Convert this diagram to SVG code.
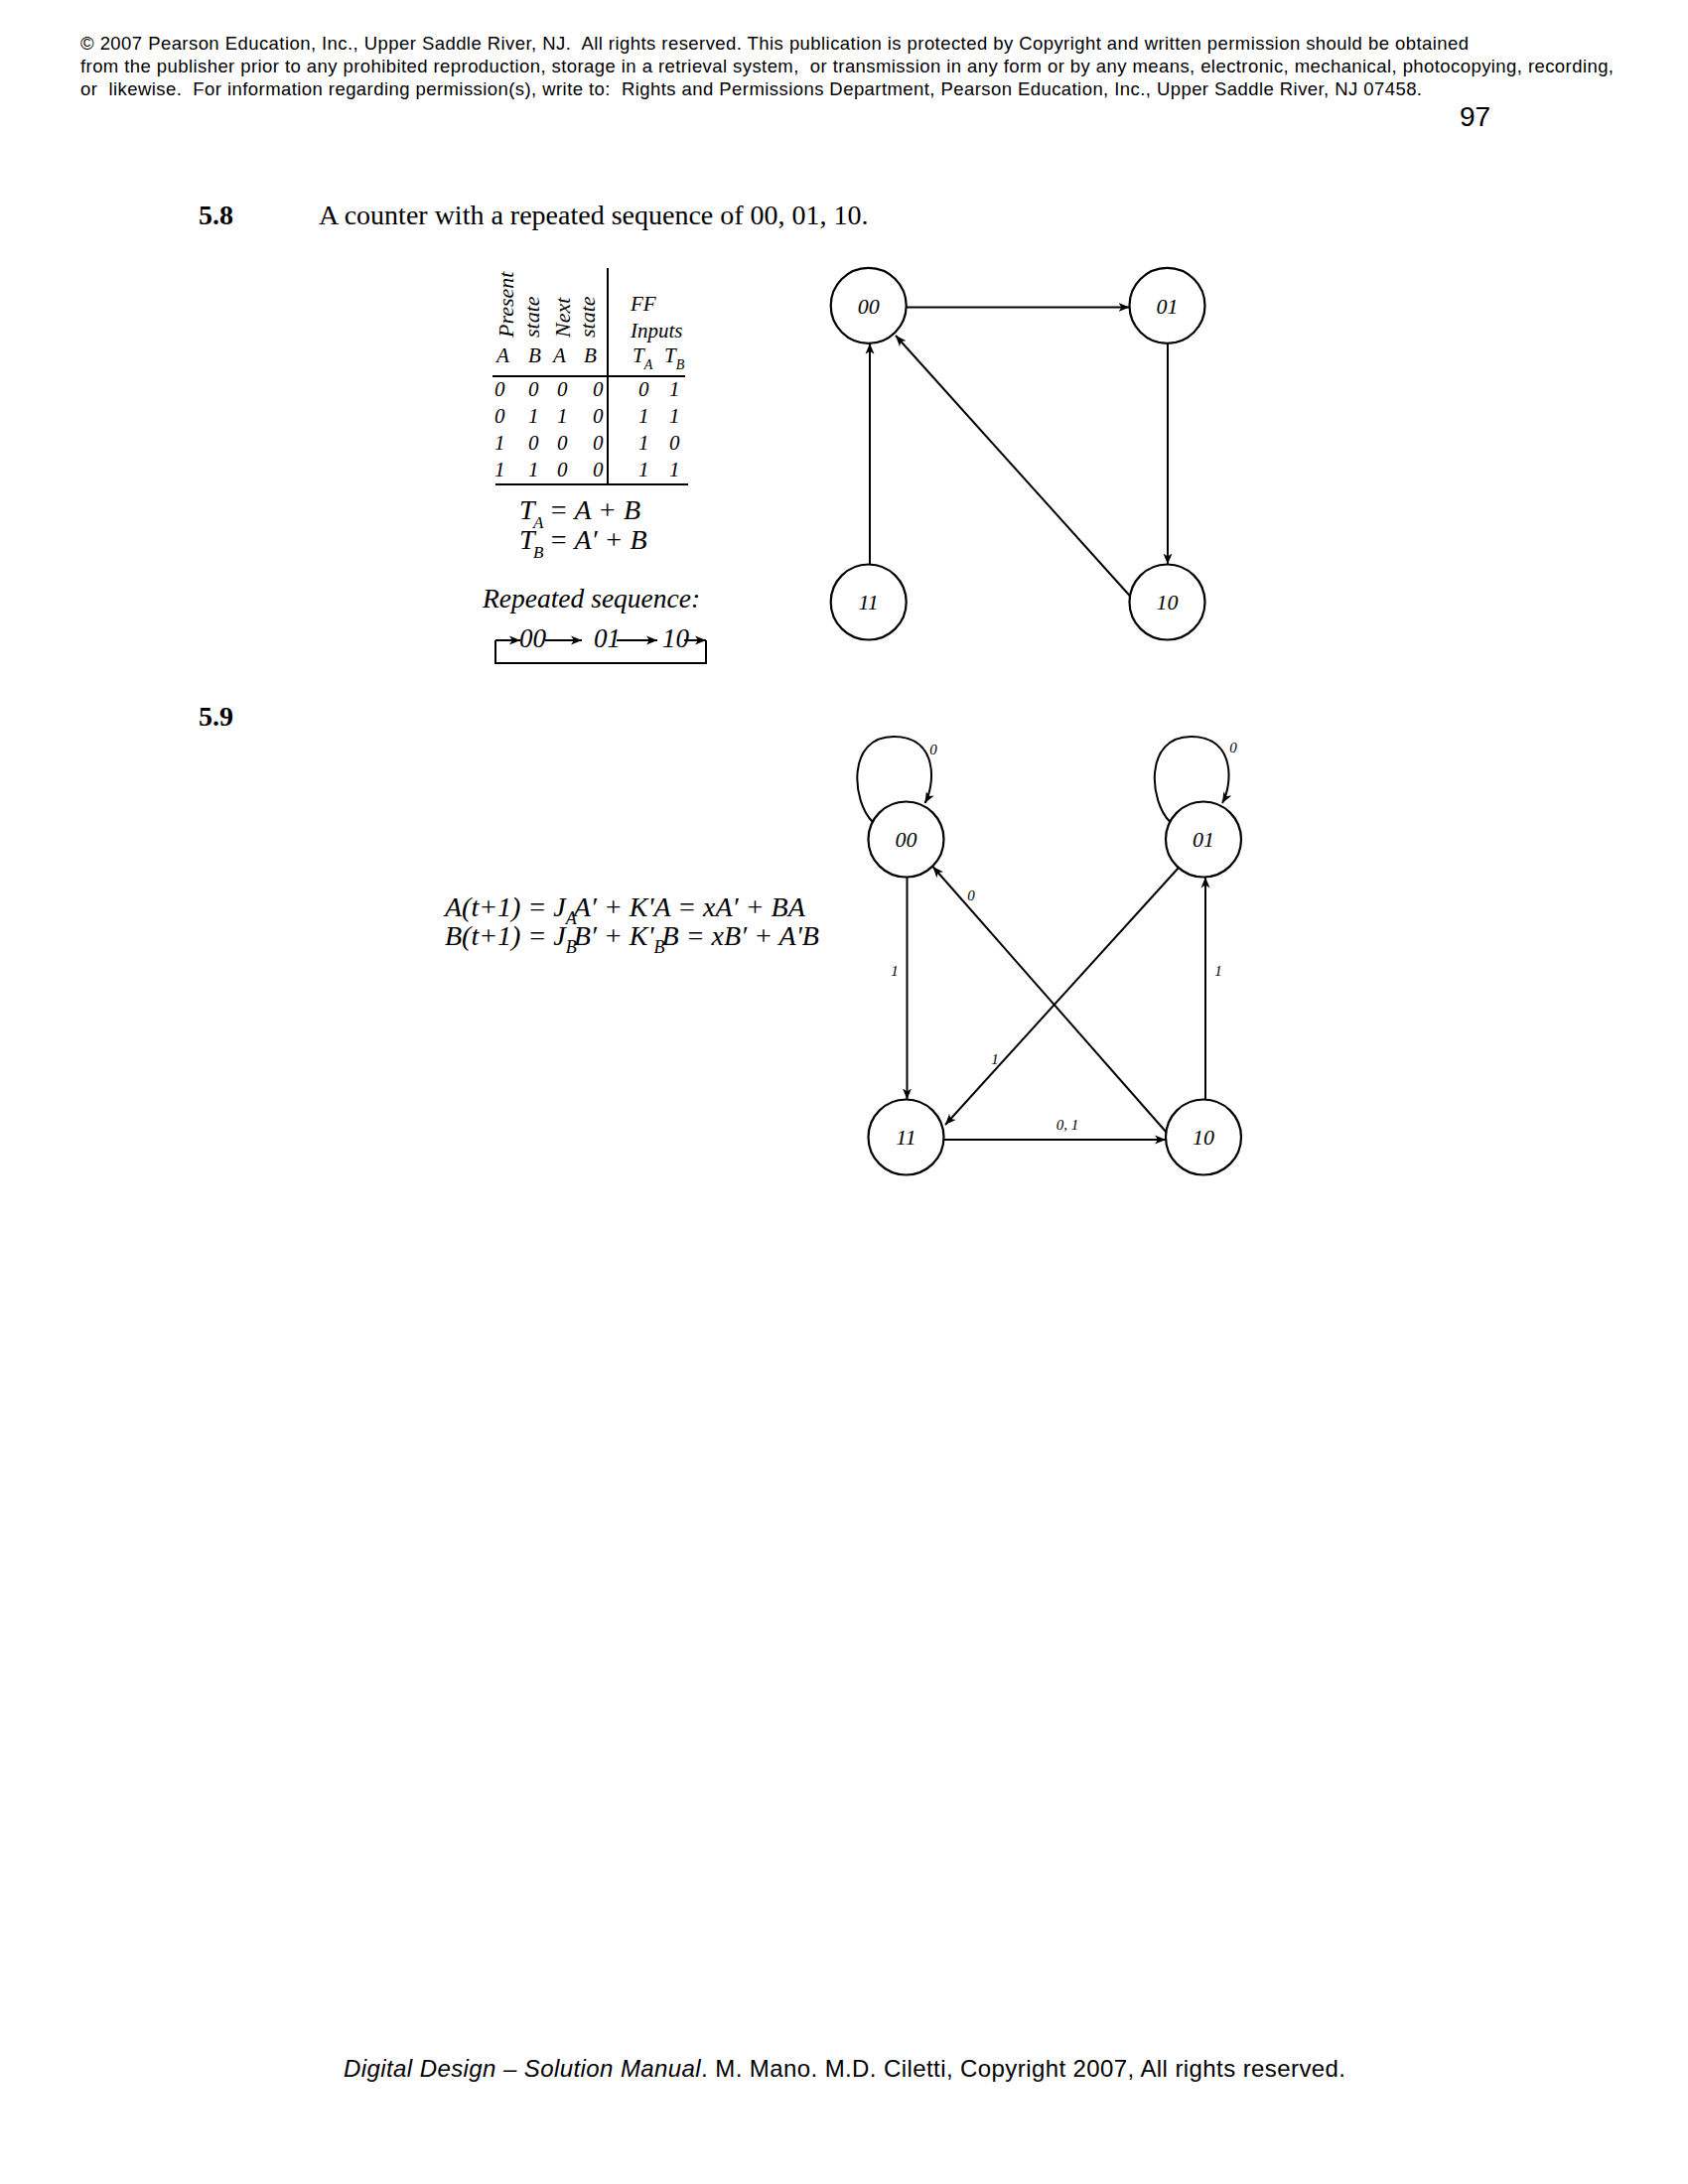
<svg xmlns="http://www.w3.org/2000/svg" width="1700" height="2200" viewBox="0 0 1700 2200">
<style>
.hdr{font-family:"Liberation Sans",Arial,sans-serif;font-size:18.5px;white-space:pre;fill:#000}
.ti{font-family:"Liberation Serif","Times New Roman",serif;font-style:italic;fill:#000}
.tr{font-family:"Liberation Serif","Times New Roman",serif;fill:#000}
.tb{font-family:"Liberation Serif","Times New Roman",serif;font-weight:bold;fill:#000}
.node circle{fill:#fff;stroke:#000;stroke-width:2.2}
.node text{font-family:"Liberation Serif","Times New Roman",serif;font-style:italic;font-size:22px;text-anchor:middle}
.conn path{fill:none;stroke:#000;stroke-width:2}
.lbl{font-family:"Liberation Serif","Times New Roman",serif;font-style:italic;font-size:15px;text-anchor:middle}
.rule{stroke:#000;stroke-width:2;fill:none}
</style>
<defs>
<marker id="ah" markerUnits="userSpaceOnUse" markerWidth="12" markerHeight="10" refX="11" refY="4.5" orient="auto" viewBox="0 0 12 9"><path d="M0,0 L11,4.5 L0,9 L3,4.5 z" fill="#000"/></marker>
<marker id="ahs" markerUnits="userSpaceOnUse" markerWidth="12" markerHeight="10" refX="11" refY="4.5" orient="auto" viewBox="0 0 12 9"><path d="M0,0 L11,4.5 L0,9 L3,4.5 z" fill="#000"/></marker>
</defs>
<rect width="1700" height="2200" fill="#fff"/>

<g id="header">
<text class="hdr" x="81" y="50" textLength="1398" lengthAdjust="spacing">© 2007 Pearson Education, Inc., Upper Saddle River, NJ.  All rights reserved. This publication is protected by Copyright and written permission should be obtained</text>
<text class="hdr" x="81" y="73" textLength="1544" lengthAdjust="spacing">from the publisher prior to any prohibited reproduction, storage in a retrieval system,  or transmission in any form or by any means, electronic, mechanical, photocopying, recording,</text>
<text class="hdr" x="81" y="96" textLength="1351" lengthAdjust="spacing">or  likewise.  For information regarding permission(s), write to:  Rights and Permissions Department, Pearson Education, Inc., Upper Saddle River, NJ 07458.</text>
<text x="1470" y="127" style="font-family:'Liberation Sans',Arial,sans-serif;font-size:28px">97</text>
</g>

<g id="problem58">
<text class="tb" x="200" y="226" font-size="28">5.8</text>
<text class="tr" x="321" y="226" font-size="28">A counter with a repeated sequence of 00, 01, 10.</text>
</g>

<g id="table58">
<text class="ti" font-size="22" transform="translate(517,340) rotate(-90)">Present</text>
<text class="ti" font-size="22" transform="translate(543,340) rotate(-90)">state</text>
<text class="ti" font-size="22" transform="translate(574,340) rotate(-90)">Next</text>
<text class="ti" font-size="22" transform="translate(599,340) rotate(-90)">state</text>
<text class="ti" font-size="21" x="635" y="313">FF</text>
<text class="ti" font-size="21" x="635" y="340">Inputs</text>
<text class="ti" font-size="21" x="500 532 557 588" y="365">ABAB</text>
<text class="ti" font-size="21" x="637" y="365">T<tspan font-size="14" dy="7">A</tspan></text>
<text class="ti" font-size="21" x="669" y="365">T<tspan font-size="14" dy="7">B</tspan></text>
<path class="rule" d="M612,270 V488 M496,379 H690 M499,488 H693"/>
<text class="ti" font-size="21" x="498 532 561 597 643 674" y="399">000001</text>
<text class="ti" font-size="21" x="498 532 561 597 643 674" y="426">011011</text>
<text class="ti" font-size="21" x="498 532 561 597 643 674" y="453">100010</text>
<text class="ti" font-size="21" x="498 532 561 597 643 674" y="480">110011</text>
<text class="ti" font-size="28" x="523" y="523">T<tspan font-size="17" x="537" dy="9">A</tspan><tspan x="553" dy="-9">= A + B</tspan></text>
<text class="ti" font-size="28" x="523" y="553">T<tspan font-size="17" x="537" dy="9">B</tspan><tspan x="553" dy="-9">= A′ + B</tspan></text>
<text class="ti" font-size="27.5" x="486" y="612">Repeated sequence:</text>
<text class="ti" font-size="27" x="523" y="652">00</text>
<text class="ti" font-size="27" x="598" y="652">01</text>
<text class="ti" font-size="27" x="667" y="652">10</text>
<g class="conn">
<path d="M711,645 V668 H499 V645"/>
<path d="M499,645 H524" marker-end="url(#ahs)"/>
<path d="M549,645 H586" marker-end="url(#ahs)"/>
<path d="M621,645 H662" marker-end="url(#ahs)"/>
<path d="M689,645 H711" marker-end="url(#ahs)"/>
</g>
</g>

<g id="connectors58" class="conn">
<path d="M912.7,309.5 H1137.5" marker-end="url(#ah)"/>
<path d="M1176,345.8 V568.5" marker-end="url(#ah)"/>
<path d="M876,568.5 V345.8" marker-end="url(#ah)"/>
<path d="M1137.7,600 L902,338" marker-end="url(#ah)"/>
</g>
<g id="s58_00" class="node"><circle cx="874.7" cy="307.8" r="38"/><text x="874.7" y="315.5">00</text></g>
<g id="s58_01" class="node"><circle cx="1175.5" cy="307.8" r="38"/><text x="1175.5" y="315.5">01</text></g>
<g id="s58_11" class="node"><circle cx="874.7" cy="606.5" r="38"/><text x="874.7" y="614">11</text></g>
<g id="s58_10" class="node"><circle cx="1175.5" cy="606.5" r="38"/><text x="1175.5" y="614">10</text></g>

<g id="problem59">
<text class="tb" x="200" y="731" font-size="28">5.9</text>
<text class="ti" font-size="28" x="448" y="923">A(t+1) = J<tspan font-size="18" dy="8">A</tspan><tspan dy="-8" dx="-3">A′ + K'A = xA′ + BA</tspan></text>
<text class="ti" font-size="28" x="448" y="952">B(t+1) = J<tspan font-size="18" dy="8">B</tspan><tspan dy="-8" dx="-3">B′ + K'</tspan><tspan font-size="18" dy="8">B</tspan><tspan dy="-8" dx="-3">B = xB′ + A'B</tspan></text>
</g>

<g id="connectors59" class="conn">
<path d="M879,828 C858,808 852,742 900,742 C945,742 942,790 931.5,809" marker-end="url(#ah)"/>
<path d="M1178.5,828 C1157.5,808 1151.5,742 1199.5,742 C1244.5,742 1241.5,790 1231,809" marker-end="url(#ah)"/>
<path d="M913.5,883.5 V1107.5" marker-end="url(#ah)"/>
<path d="M950.5,1148 H1174" marker-end="url(#ah)"/>
<path d="M1214,1107.5 V883.5" marker-end="url(#ah)"/>
<path d="M1175,1141 L939.5,873" marker-end="url(#ah)"/>
<path d="M1187,874 L952,1133" marker-end="url(#ah)"/>
</g>
<g id="labels59">
<text class="lbl" x="940" y="760">0</text>
<text class="lbl" x="1242" y="758">0</text>
<text class="lbl" x="901" y="983">1</text>
<text class="lbl" x="978" y="907">0</text>
<text class="lbl" x="1002" y="1072">1</text>
<text class="lbl" x="1075" y="1138">0, 1</text>
<text class="lbl" x="1227" y="983">1</text>
</g>
<g id="s59_00" class="node"><circle cx="912.5" cy="845.5" r="38"/><text x="912.5" y="853">00</text></g>
<g id="s59_01" class="node"><circle cx="1212" cy="845.5" r="38"/><text x="1212" y="853">01</text></g>
<g id="s59_11" class="node"><circle cx="912.5" cy="1145.5" r="38"/><text x="912.5" y="1153">11</text></g>
<g id="s59_10" class="node"><circle cx="1212" cy="1145.5" r="38"/><text x="1212" y="1153">10</text></g>

<g id="footer">
<text x="346" y="2092" textLength="1009" lengthAdjust="spacing" style="font-family:'Liberation Sans',Arial,sans-serif;font-size:24px"><tspan font-style="italic">Digital Design – Solution Manual</tspan>. M. Mano. M.D. Ciletti, Copyright 2007, All rights reserved.</text>
</g>
</svg>
